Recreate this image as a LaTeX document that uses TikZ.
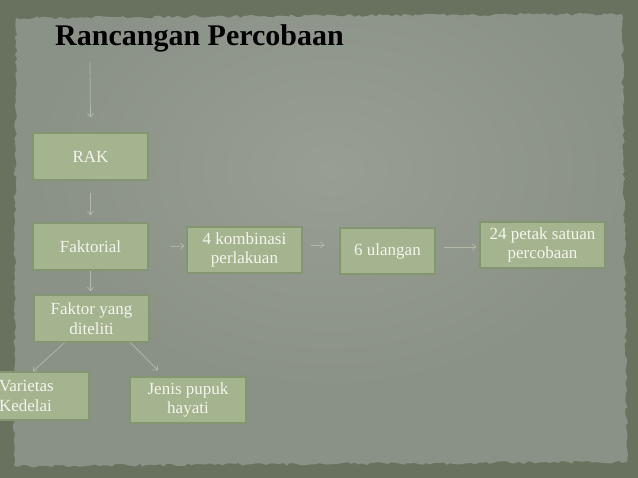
\documentclass[tikz,border=0pt]{standalone}
\usepackage{fontspec}
\setmainfont{Liberation Serif}
\usetikzlibrary{arrows.meta,decorations.pathmorphing,calc}
\definecolor{outerbg}{RGB}{104,114,94}
\definecolor{paper}{RGB}{138,145,135}
\definecolor{paperlight}{RGB}{152,158,148}
\definecolor{boxfill}{RGB}{164,180,142}
\definecolor{boxline}{RGB}{132,150,112}
\definecolor{boxtext}{RGB}{244,244,238}
\definecolor{arrowc}{RGB}{178,186,168}
\tikzset{
  stepbox/.style={draw=boxline, line width=1.2pt, fill=boxfill, text=boxtext,
    font=\fontsize{17}{19.5}\selectfont, align=center, inner sep=0pt},
  conn/.style={draw=arrowc, line width=0.7pt, -{Straight Barb[length=3.5pt,width=6pt]}}
}
\begin{document}
\begin{tikzpicture}[x=1pt,y=-1pt]
\useasboundingbox (0,0) rectangle (638,478);
\fill[outerbg] (0,0) rectangle (638,478);
\begin{scope}
\path[clip, decorate, decoration={random steps,segment length=4pt,amplitude=1.5pt}]
  (16,18) -- (622,14) -- (627,462) -- (14,466) -- cycle;
\fill[paper] (0,0) rectangle (638,478);
\shade[inner color=paperlight, outer color=paper] (330,170) ellipse (300 and 220);
\end{scope}
\node[anchor=base west, font=\bfseries\fontsize{30}{33}\selectfont, text=black, inner sep=0pt] (title) at (55,46) {Rancangan Percobaan};
\coordinate (top) at (90,62);
\node[stepbox, minimum width=115pt, minimum height=47pt] (rak) at (90.5,156.5) {RAK};
\node[stepbox, minimum width=115pt, minimum height=47pt] (fak) at (90.5,246.5) {Faktorial};
\node[stepbox, minimum width=115pt, minimum height=46pt] (komb) at (244.5,250) {4 kombinasi\\perlakuan};
\node[stepbox, minimum width=95pt, minimum height=46pt] (ul) at (387.5,251) {6 ulangan};
\node[stepbox, minimum width=125pt, minimum height=46pt] (petak) at (542.5,245) {24 petak satuan\\percobaan};
\node[stepbox, minimum width=115pt, minimum height=47pt] (ftr) at (91.5,318.5) {Faktor yang\\diteliti};
\node[stepbox, minimum width=92pt, minimum height=48pt, align=left, text width=88pt] (var) at (43,396) {Varietas\\Kedelai};
\node[stepbox, minimum width=116pt, minimum height=46pt] (jen) at (188,400) {Jenis pupuk\\hayati};
\draw[conn] (top) -- ($(rak.north)+(0,-15)$);
\draw[conn] ($(rak.south)+(0,12)$) -- ($(fak.north)+(0,-7)$);
\draw[conn] (fak.south) -- ($(ftr.north)+(-1,-3)$);
\draw[conn] ($(fak.east)+(22,0)$) -- ($(komb.west)+(-2,-4)$);
\draw[conn] ($(komb.east)+(8,-5)$) -- ($(ul.west)+(-15,-6)$);
\draw[conn] ($(ul.east)+(8,-4)$) -- ($(petak.west)+(-3,2)$);
\draw[conn] ($(ftr.south)+(-27,0)$) -- ($(var.north)+(-10,0)$);
\draw[conn] ($(ftr.south)+(39,0)$) -- ($(jen.north)+(-30,-6)$);
\end{tikzpicture}
\end{document}
